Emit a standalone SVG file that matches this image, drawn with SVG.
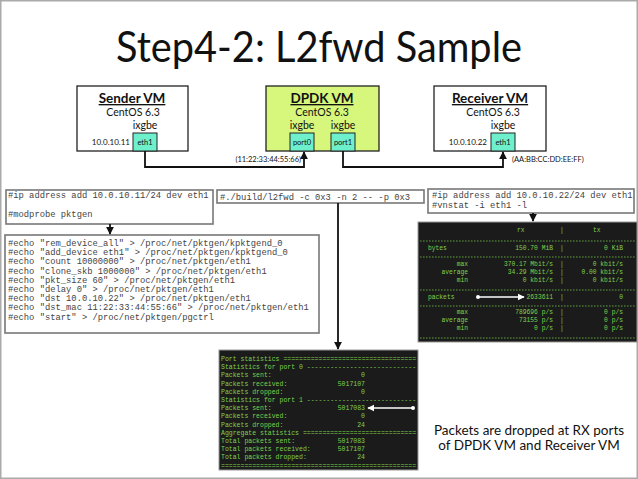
<svg xmlns="http://www.w3.org/2000/svg" width="638" height="479" viewBox="0 0 638 479">
<defs>
<style>
.hum{font-family:Lato,"Open Sans","Liberation Sans",sans-serif;fill:#111}
.vm{fill:#fff;stroke:#222;stroke-width:1.3}
.nic{fill:#6ff0cc;stroke:#222;stroke-width:1}
.cmd{fill:#fff;stroke:#777;stroke-width:1.6}
.ct{font-family:"Liberation Mono","DejaVu Sans Mono",monospace;font-size:8.8px;fill:#444}
.term{fill:#1b1b1b;stroke:#999;stroke-width:1}
.g{font-family:"Liberation Mono","DejaVu Sans Mono",monospace;fill:#7fd14e}
.vs{font-size:6.3px}
.l2{font-size:6.5px}
.dash{stroke:#6fbf45;stroke-width:0.8;stroke-dasharray:1.6 1.4}
.wire{fill:none;stroke:#111;stroke-width:1.8}
.white{fill:none;stroke:#fff;stroke-width:1.6}
</style>
<marker id="ah" viewBox="0 0 10 10" refX="9" refY="5" markerWidth="4.5" markerHeight="4.5" orient="auto" markerUnits="strokeWidth"><path d="M0,0 L10,5 L0,10 z" fill="#111"/></marker>
<marker id="wh" viewBox="0 0 10 10" refX="9" refY="5" markerWidth="4.5" markerHeight="4.5" orient="auto" markerUnits="strokeWidth"><path d="M0,0 L10,5 L0,10 z" fill="#fff"/></marker>
</defs>
<rect x="0.75" y="0.75" width="636.5" height="477.5" fill="#fff" stroke="#aaa" stroke-width="1.5"/>
<text class="hum" x="319" y="62" font-size="43" text-anchor="middle" textLength="406" lengthAdjust="spacingAndGlyphs">Step4-2: L2fwd Sample</text>

<g id="sender-vm">
<rect class="vm" x="77" y="86" width="111" height="65"/>
<text class="hum" x="132" y="103" font-size="13.5" font-weight="bold" text-anchor="middle" text-decoration="underline">Sender VM</text>
<text class="hum" x="133" y="116" font-size="10.5" text-anchor="middle">CentOS 6.3</text>
<text class="hum" x="145" y="128.5" font-size="10.5" text-anchor="middle">ixgbe</text>
<rect class="nic" x="133" y="133" width="24" height="18"/>
<text class="hum" x="145" y="145" font-size="7.5" text-anchor="middle">eth1</text>
<text class="hum" x="130" y="145" font-size="8" text-anchor="end">10.0.10.11</text>
</g>

<g id="dpdk-vm">
<rect class="vm" x="266" y="86" width="113" height="65" style="fill:#d6f67c"/>
<text class="hum" x="322" y="103" font-size="13.5" font-weight="bold" text-anchor="middle" text-decoration="underline">DPDK VM</text>
<text class="hum" x="322" y="116" font-size="10.5" text-anchor="middle">CentOS 6.3</text>
<text class="hum" x="302" y="128.5" font-size="10.5" text-anchor="middle">ixgbe</text>
<text class="hum" x="343" y="128.5" font-size="10.5" text-anchor="middle">ixgbe</text>
<rect class="nic" x="290" y="133" width="24" height="18"/>
<text class="hum" x="302" y="145" font-size="7.5" text-anchor="middle">port0</text>
<rect class="nic" x="331" y="133" width="24" height="18"/>
<text class="hum" x="343" y="145" font-size="7.5" text-anchor="middle">port1</text>
</g>

<g id="receiver-vm">
<rect class="vm" x="434" y="86" width="112" height="65"/>
<text class="hum" x="490" y="103" font-size="13.5" font-weight="bold" text-anchor="middle" text-decoration="underline">Receiver VM</text>
<text class="hum" x="493" y="116" font-size="10.5" text-anchor="middle">CentOS 6.3</text>
<text class="hum" x="503" y="128.5" font-size="10.5" text-anchor="middle">ixgbe</text>
<rect class="nic" x="491" y="133" width="24" height="18"/>
<text class="hum" x="503" y="145" font-size="7.5" text-anchor="middle">eth1</text>
<text class="hum" x="487" y="145" font-size="8" text-anchor="end">10.0.10.22</text>
</g>

<g id="mac-labels">
<text class="hum" x="301" y="162" font-size="7.5" text-anchor="end">(11:22:33:44:55:66)</text>
<text class="hum" x="512" y="162" font-size="7.5">(AA:BB:CC:DD:EE:FF)</text>
</g>

<g id="sender-cmd">
<rect class="cmd" x="6" y="190" width="207" height="34"/>
<text class="ct" x="8" y="198">#ip address add 10.0.10.11/24 dev eth1</text>
<text class="ct" x="8" y="217">#modprobe pktgen</text>
</g>

<g id="pktgen-cmd">
<rect class="cmd" x="5" y="235" width="314" height="98"/>
<text class="ct" x="8" y="246">#echo "rem_device_all" &gt; /proc/net/pktgen/kpktgend_0</text>
<text class="ct" x="8" y="255.2">#echo "add_device eth1" &gt; /proc/net/pktgen/kpktgend_0</text>
<text class="ct" x="8" y="264.4">#echo "count 10000000" &gt; /proc/net/pktgen/eth1</text>
<text class="ct" x="8" y="273.6">#echo "clone_skb 1000000" &gt; /proc/net/pktgen/eth1</text>
<text class="ct" x="8" y="282.8">#echo "pkt_size 60" &gt; /proc/net/pktgen/eth1</text>
<text class="ct" x="8" y="292">#echo "delay 0" &gt; /proc/net/pktgen/eth1</text>
<text class="ct" x="8" y="301.2">#echo "dst 10.0.10.22" &gt; /proc/net/pktgen/eth1</text>
<text class="ct" x="8" y="310.4">#echo "dst_mac 11:22:33:44:55:66" &gt; /proc/net/pktgen/eth1</text>
<text class="ct" x="8" y="319.6">#echo "start" &gt; /proc/net/pktgen/pgctrl</text>
</g>

<g id="l2fwd-cmd">
<rect class="cmd" x="217" y="190" width="207" height="13"/>
<text class="ct" x="220" y="199.5">#./build/l2fwd -c 0x3 -n 2 -- -p 0x3</text>
</g>

<g id="receiver-cmd">
<rect class="cmd" x="428" y="189" width="206" height="24"/>
<text class="ct" x="432" y="197.5">#ip address add 10.0.10.22/24 dev eth1</text>
<text class="ct" x="432" y="207.5">#vnstat -i eth1 -l</text>
</g>

<g id="vnstat-output">
<rect class="term" x="418" y="222" width="219" height="120"/>
<g class="g vs">
<text x="517" y="232">rx</text><text x="562" y="232" text-anchor="middle">|</text><text x="593" y="232">tx</text>
<text x="428" y="250">bytes</text><text x="553" y="250" text-anchor="end">150.70 MiB</text><text x="562" y="250" text-anchor="middle">|</text><text x="623" y="250" text-anchor="end">0 KiB</text>
<text x="468" y="266" text-anchor="end">max</text><text x="553" y="266" text-anchor="end">370.17 Mbit/s</text><text x="562" y="266" text-anchor="middle">|</text><text x="623" y="266" text-anchor="end">0 kbit/s</text>
<text x="468" y="274" text-anchor="end">average</text><text x="553" y="274" text-anchor="end">34.29 Mbit/s</text><text x="562" y="274" text-anchor="middle">|</text><text x="623" y="274" text-anchor="end">0.00 kbit/s</text>
<text x="468" y="282" text-anchor="end">min</text><text x="553" y="282" text-anchor="end">0 kbit/s</text><text x="562" y="282" text-anchor="middle">|</text><text x="623" y="282" text-anchor="end">0 kbit/s</text>
<text x="428" y="299">packets</text><text x="553" y="299" text-anchor="end">2633611</text><text x="562" y="299" text-anchor="middle">|</text><text x="623" y="299" text-anchor="end">0</text>
<text x="468" y="314" text-anchor="end">max</text><text x="553" y="314" text-anchor="end">789696 p/s</text><text x="562" y="314" text-anchor="middle">|</text><text x="623" y="314" text-anchor="end">0 p/s</text>
<text x="468" y="322" text-anchor="end">average</text><text x="553" y="322" text-anchor="end">73155 p/s</text><text x="562" y="322" text-anchor="middle">|</text><text x="623" y="322" text-anchor="end">0 p/s</text>
<text x="468" y="330" text-anchor="end">min</text><text x="553" y="330" text-anchor="end">0 p/s</text><text x="562" y="330" text-anchor="middle">|</text><text x="623" y="330" text-anchor="end">0 p/s</text>
</g>
<line class="dash" x1="420" y1="241" x2="635" y2="241"/>
<line class="dash" x1="420" y1="257" x2="635" y2="257"/>
<line class="dash" x1="420" y1="290" x2="635" y2="290"/>
<line class="dash" x1="420" y1="306" x2="635" y2="306"/>
<line class="dash" x1="420" y1="338" x2="635" y2="338"/>
<circle cx="478" cy="297" r="2" fill="#fff"/>
<line class="white" x1="478" y1="297" x2="524" y2="297" marker-end="url(#wh)"/>
</g>

<g id="l2fwd-output">
<rect class="term" x="219" y="350" width="199" height="120"/>
<g class="g l2">
<text x="221" y="361">Port statistics ==================================</text>
<text x="221" y="369.2">Statistics for port 0 ----------------------------</text>
<text x="221" y="377.4">Packets sent:</text><text x="365" y="377.4" text-anchor="end">0</text>
<text x="221" y="385.6">Packets received:</text><text x="365" y="385.6" text-anchor="end">5017107</text>
<text x="221" y="393.8">Packets dropped:</text><text x="365" y="393.8" text-anchor="end">0</text>
<text x="221" y="402">Statistics for port 1 ----------------------------</text>
<text x="221" y="410.2">Packets sent:</text><text x="365" y="410.2" text-anchor="end">5017083</text>
<text x="221" y="418.4">Packets received:</text><text x="365" y="418.4" text-anchor="end">0</text>
<text x="221" y="426.6">Packets dropped:</text><text x="365" y="426.6" text-anchor="end">24</text>
<text x="221" y="434.8">Aggregate statistics =============================</text>
<text x="221" y="443">Total packets sent:</text><text x="365" y="443" text-anchor="end">5017083</text>
<text x="221" y="451.2">Total packets received:</text><text x="365" y="451.2" text-anchor="end">5017107</text>
<text x="221" y="459.4">Total packets dropped:</text><text x="365" y="459.4" text-anchor="end">24</text>
<text x="221" y="467.6">==================================================</text>
</g>
<circle cx="413" cy="408" r="2" fill="#fff"/>
<line class="white" x1="413" y1="408" x2="368" y2="408" marker-end="url(#wh)"/>
</g>

<g id="note">
<text class="hum" x="529" y="435" font-size="13.5" text-anchor="middle">Packets are dropped at RX ports</text>
<text class="hum" x="529" y="450" font-size="13.5" text-anchor="middle">of DPDK VM and Receiver VM</text>
</g>

<g id="connectors">
<path class="wire" d="M145,151 V167 H304 V152" marker-end="url(#ah)"/>
<path class="wire" d="M343,151 V167 H503 V152" marker-end="url(#ah)"/>
<path class="wire" d="M110,224 V234" marker-end="url(#ah)"/>
<path class="wire" d="M338,203 V349" marker-end="url(#ah)"/>
<path class="wire" d="M533,213 V221" marker-end="url(#ah)"/>
</g>
</svg>
